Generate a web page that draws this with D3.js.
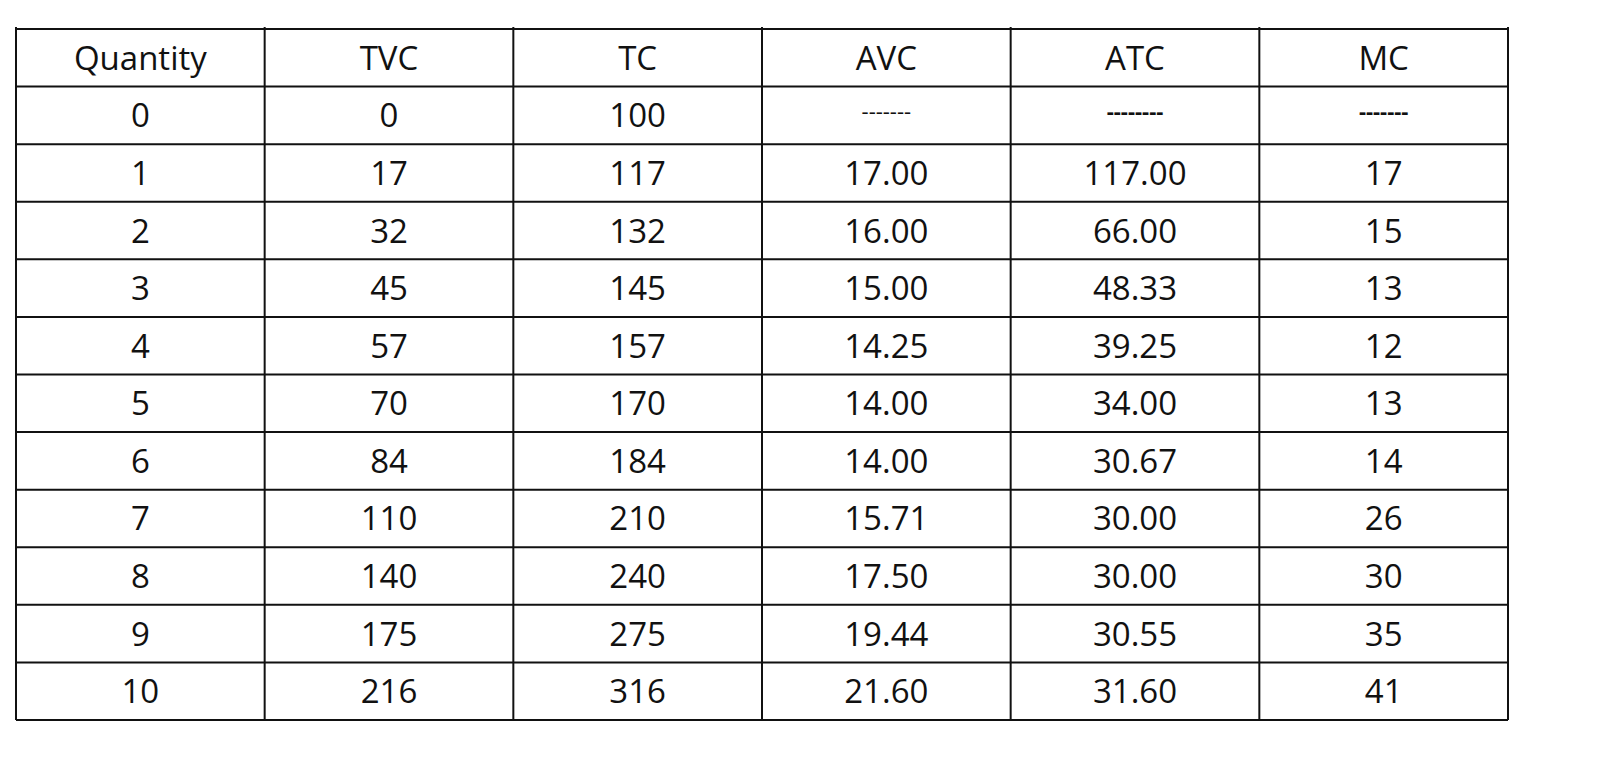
<!DOCTYPE html>
<html><head><meta charset="utf-8">
<script src="https://cdn.jsdelivr.net/npm/d3@7"></script>
<style>body{margin:0;background:#fff}</style>
</head><body><div id="wrapper"></div>
<script>
const headers = ["Quantity", "TVC", "TC", "AVC", "ATC", "MC"];
const quantity = ["0","1","2","3","4","5","6","7","8","9","10"];
const tvc = ["0","17","32","45","57","70","84","110","140","175","216"];
const tc = ["100","117","132","145","157","170","184","210","240","275","316"];
const avc = ["-------","17.00","16.00","15.00","14.25","14.00","14.00","15.71","17.50","19.44","21.60"];
const atc = ["--------","117.00","66.00","48.33","39.25","34.00","30.67","30.00","30.00","30.55","31.60"];
const mc = ["-------","17","15","13","12","13","14","26","30","35","41"];

const columns = [quantity, tvc, tc, avc, atc, mc];
const boldDash = {4: true, 5: true};

const width = 1608, height = 769;
const tLeft = 16, tRight = 1508, tTop = 29, tBottom = 720;

const svg = d3.select("#wrapper").append("svg")
  .attr("width", width).attr("height", height);

const xScale = d3.scaleBand().domain(d3.range(headers.length)).range([tLeft, tRight]);
const yScale = d3.scaleBand().domain(d3.range(quantity.length + 1)).range([tTop, tBottom]);

const grid = svg.append("g").attr("stroke", "#111").attr("stroke-width", 2);
d3.range(headers.length + 1).forEach(i => {
  const x = i < headers.length ? xScale(i) : tRight;
  grid.append("line").attr("x1", x).attr("x2", x).attr("y1", tTop - 2).attr("y2", tBottom);
});
d3.range(quantity.length + 2).forEach(j => {
  const y = j <= quantity.length ? yScale(j) : tBottom;
  grid.append("line").attr("x1", tLeft).attr("x2", tRight).attr("y1", y).attr("y2", y);
});

const text = svg.append("g")
  .attr("font-family", "'Open Sans', 'Noto Sans', sans-serif")
  .attr("font-size", 33)
  .attr("fill", "#111")
  .attr("text-anchor", "middle");

headers.forEach((h, i) => {
  text.append("text")
    .attr("x", xScale(i) + xScale.bandwidth() / 2)
    .attr("y", yScale(0) + yScale.bandwidth() / 2 + 12)
    .text(h);
});

columns.forEach((col, i) => {
  col.forEach((v, j) => {
    const t = text.append("text")
      .attr("x", xScale(i) + xScale.bandwidth() / 2)
      .attr("y", yScale(j + 1) + yScale.bandwidth() / 2 + 12)
      .text(v);
    if (v.startsWith("-")) {
      t.attr("font-size", 22).attr("y", yScale(j + 1) + yScale.bandwidth() / 2 + 4)
       .attr("font-weight", boldDash[i] ? "bold" : "normal");
    }
  });
});
</script></body></html>
